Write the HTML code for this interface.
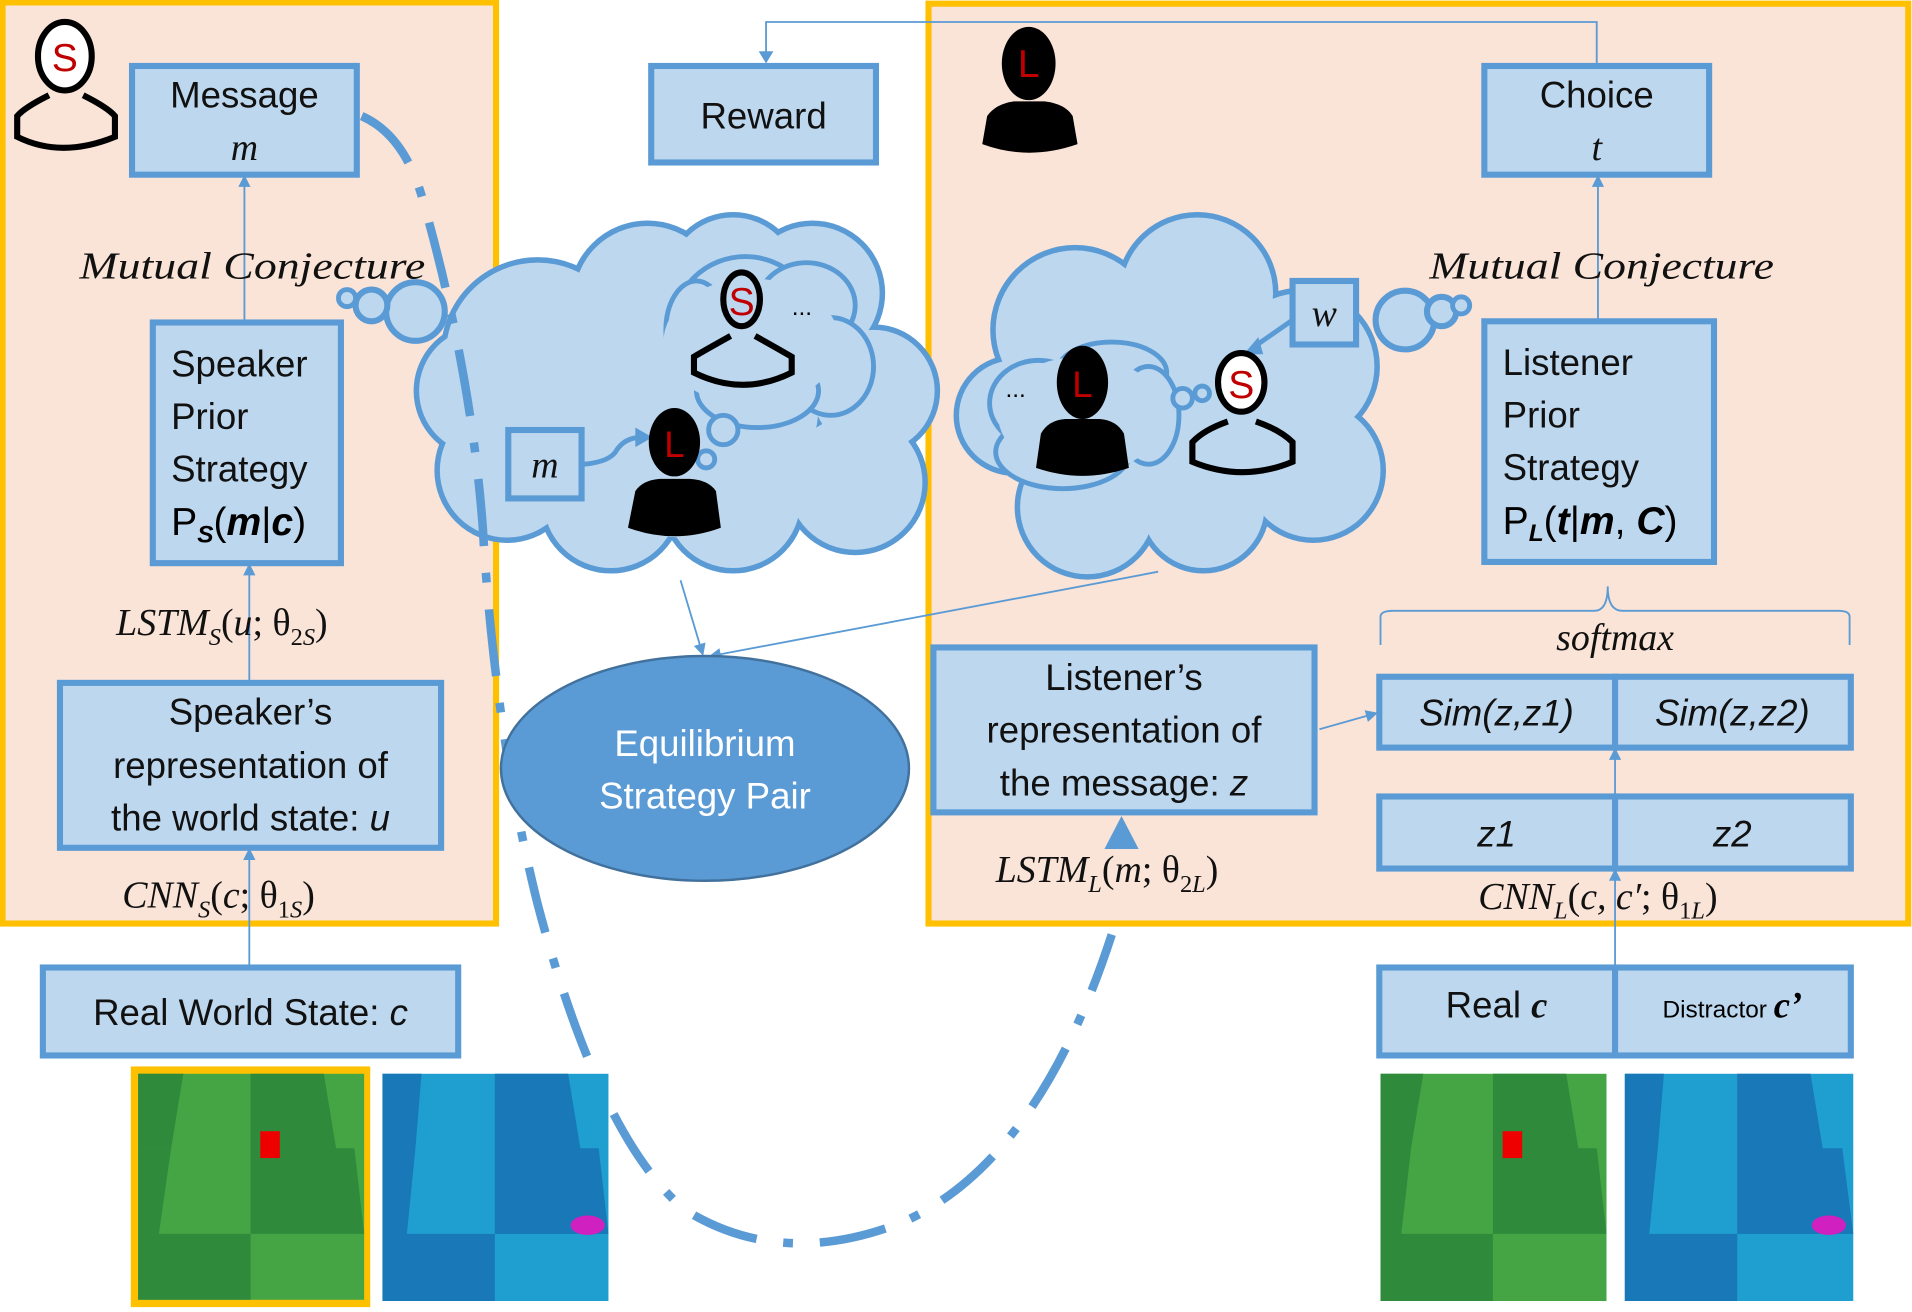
<!DOCTYPE html>
<html><head><meta charset="utf-8"><style>
html,body{margin:0;padding:0;background:#fff;}
svg{display:block}
text{font-family:"Liberation Sans",sans-serif;}
.b{fill:#bdd7ee;stroke:#5b9bd5;stroke-width:5}
.t{font-size:30px;fill:#111}
.s{font-family:"Liberation Serif",serif;font-style:italic;font-size:31px;fill:#111}
.cs{fill:#bdd7ee;stroke:#5b9bd5;stroke-width:9}
.cf{fill:#bdd7ee}
.ln{stroke:#5b9bd5;stroke-width:1.5;fill:none}
</style></head><body>
<svg width="1912" height="1312" viewBox="0 0 1565 1074" xmlns="http://www.w3.org/2000/svg">
<defs>
<marker id="a" markerWidth="10" markerHeight="10" refX="8" refY="5" orient="auto" markerUnits="userSpaceOnUse"><path d="M0,0 L10,5 L0,10z" fill="#5b9bd5"/></marker>
</defs>
<rect x="2" y="2" width="404" height="754" fill="#fae3d7" stroke="#ffc000" stroke-width="5"/>
<rect x="760" y="3" width="802" height="753" fill="#fae3d7" stroke="#ffc000" stroke-width="5"/>

<g>
<circle class="cs" cx="440" cy="290" r="75"/><circle class="cs" cx="530" cy="245" r="60"/><circle class="cs" cx="600" cy="230" r="52"/><circle class="cs" cx="665" cy="240" r="55"/><circle class="cs" cx="715" cy="320" r="50"/><circle class="cs" cx="700" cy="395" r="55"/><circle class="cs" cx="600" cy="410" r="55"/><circle class="cs" cx="500" cy="410" r="55"/><circle class="cs" cx="415" cy="385" r="55"/><circle class="cs" cx="395" cy="320" r="52"/>
<circle class="cf" cx="440" cy="290" r="75"/><circle class="cf" cx="530" cy="245" r="60"/><circle class="cf" cx="600" cy="230" r="52"/><circle class="cf" cx="665" cy="240" r="55"/><circle class="cf" cx="715" cy="320" r="50"/><circle class="cf" cx="700" cy="395" r="55"/><circle class="cf" cx="600" cy="410" r="55"/><circle class="cf" cx="500" cy="410" r="55"/><circle class="cf" cx="415" cy="385" r="55"/><circle class="cf" cx="395" cy="320" r="52"/><circle class="cf" cx="560" cy="330" r="110"/>
</g>
<g stroke="#5b9bd5" stroke-width="4" fill="#bdd7ee">
<ellipse cx="610" cy="270" rx="60" ry="60"/><ellipse cx="660" cy="250" rx="40" ry="35"/><ellipse cx="680" cy="300" rx="35" ry="40"/><ellipse cx="620" cy="320" rx="50" ry="30"/><ellipse cx="570" cy="270" rx="25" ry="40"/>
</g>
<g fill="#bdd7ee"><ellipse cx="615" cy="280" rx="72" ry="52"/></g>
<circle cx="592" cy="352" r="12" fill="#bdd7ee" stroke="#5b9bd5" stroke-width="4"/>
<circle cx="578" cy="376" r="7" fill="#bdd7ee" stroke="#5b9bd5" stroke-width="4"/>
<circle cx="340" cy="255" r="24" fill="#bdd7ee" stroke="#5b9bd5" stroke-width="5"/>
<circle cx="304" cy="250" r="13" fill="#bdd7ee" stroke="#5b9bd5" stroke-width="5"/>
<circle cx="284" cy="244" r="7" fill="#bdd7ee" stroke="#5b9bd5" stroke-width="4"/>

<g>
<circle class="cs" cx="880" cy="270" r="65"/><circle class="cs" cx="980" cy="240" r="62"/><circle class="cs" cx="1065" cy="300" r="60"/><circle class="cs" cx="1075" cy="385" r="55"/><circle class="cs" cx="985" cy="415" r="50"/><circle class="cs" cx="890" cy="415" r="55"/><circle class="cs" cx="830" cy="340" r="45"/>
<circle class="cf" cx="880" cy="270" r="65"/><circle class="cf" cx="980" cy="240" r="62"/><circle class="cf" cx="1065" cy="300" r="60"/><circle class="cf" cx="1075" cy="385" r="55"/><circle class="cf" cx="985" cy="415" r="50"/><circle class="cf" cx="890" cy="415" r="55"/><circle class="cf" cx="830" cy="340" r="45"/><circle class="cf" cx="960" cy="335" r="100"/>
</g>
<g stroke="#5b9bd5" stroke-width="4" fill="#bdd7ee">
<ellipse cx="850" cy="330" rx="40" ry="35"/><ellipse cx="910" cy="305" rx="45" ry="25"/><ellipse cx="940" cy="340" rx="25" ry="40"/><ellipse cx="870" cy="370" rx="55" ry="30"/>
</g>
<ellipse cx="885" cy="340" rx="68" ry="48" fill="#bdd7ee"/>
<circle cx="968" cy="326" r="8" fill="#bdd7ee" stroke="#5b9bd5" stroke-width="4"/>
<circle cx="984" cy="322" r="6" fill="#bdd7ee" stroke="#5b9bd5" stroke-width="4"/>
<circle cx="1150" cy="262" r="24" fill="#bdd7ee" stroke="#5b9bd5" stroke-width="5"/>
<circle cx="1180" cy="255" r="12" fill="#bdd7ee" stroke="#5b9bd5" stroke-width="5"/>
<circle cx="1196" cy="250" r="7" fill="#bdd7ee" stroke="#5b9bd5" stroke-width="4"/>

<path class="ln" d="M627,50 V18 H1307 V53"/><path d="M621,42 L627,52 L633,42z" fill="#5b9bd5"/>
<line class="ln" x1="200" y1="263" x2="200" y2="145" marker-end="url(#a)"/>
<line class="ln" x1="204" y1="557" x2="204" y2="463" marker-end="url(#a)"/>
<line class="ln" x1="204" y1="790" x2="204" y2="696" marker-end="url(#a)"/>
<line class="ln" x1="1308" y1="262" x2="1308" y2="145" marker-end="url(#a)"/>
<line class="ln" x1="1322" y1="790" x2="1322" y2="713" marker-end="url(#a)"/>
<line class="ln" x1="1322" y1="651" x2="1322" y2="614" marker-end="url(#a)"/>
<line class="ln" x1="1080" y1="597" x2="1126" y2="584" marker-end="url(#a)"/>
<line class="ln" x1="557" y1="475" x2="575" y2="535" marker-end="url(#a)"/>
<line class="ln" x1="948" y1="468" x2="582" y2="537" marker-end="url(#a)"/>
<path d="M1130,528 V505 Q1130,500 1140,500 H1305 Q1316,500 1316,480 Q1316,500 1328,500 H1505 Q1514,500 1514,505 V528" fill="none" stroke="#5b9bd5" stroke-width="1.5"/>

<path d="M296,95 Q330,110 345,160 Q385,300 395,430 Q405,600 440,740 Q490,930 560,990 Q640,1040 740,1000 Q850,950 910,765" fill="none" stroke="#5b9bd5" stroke-width="7" stroke-dasharray="55,22,8,22"/>
<path d="M904,695 L918,668 L932,695z" fill="#5b9bd5"/>

<rect class="b" x="108" y="54" width="184" height="89"/>
<text class="t" x="200" y="88" text-anchor="middle">Message</text>
<text class="s" x="200" y="131" text-anchor="middle">m</text>
<rect class="b" x="533" y="54" width="184" height="79"/>
<text class="t" x="625" y="105" text-anchor="middle">Reward</text>
<rect class="b" x="1215" y="54" width="184" height="89"/>
<text class="t" x="1307" y="88" text-anchor="middle">Choice</text>
<text class="s" x="1307" y="131" text-anchor="middle">t</text>

<rect class="b" x="125" y="264" width="154" height="197"/>
<text class="t" x="140" y="308">Speaker</text><text class="t" x="140" y="351">Prior</text><text class="t" x="140" y="394">Strategy</text>
<text x="140" y="438" font-family="Liberation Serif,serif" font-size="32">P<tspan font-size="20" font-weight="bold" font-style="italic" dy="6">S</tspan><tspan dy="-6">(</tspan><tspan font-weight="bold" font-style="italic">m</tspan>|<tspan font-weight="bold" font-style="italic">c</tspan>)</text>
<rect class="b" x="1215" y="263" width="188" height="197"/>
<text class="t" x="1230" y="307">Listener</text><text class="t" x="1230" y="350">Prior</text><text class="t" x="1230" y="393">Strategy</text>
<text x="1230" y="437" font-family="Liberation Serif,serif" font-size="32">P<tspan font-size="20" font-weight="bold" font-style="italic" dy="6">L</tspan><tspan dy="-6">(</tspan><tspan font-weight="bold" font-style="italic">t</tspan>|<tspan font-weight="bold" font-style="italic">m</tspan>, <tspan font-weight="bold" font-style="italic">C</tspan>)</text>

<rect class="b" x="49" y="559" width="312" height="135"/>
<text class="t" x="205" y="593" text-anchor="middle">Speaker’s</text>
<text class="t" x="205" y="637" text-anchor="middle">representation of</text>
<text class="t" x="205" y="680" text-anchor="middle">the world state: <tspan font-style="italic">u</tspan></text>
<rect class="b" x="35" y="792" width="340" height="72"/>
<text class="t" x="205" y="839" text-anchor="middle">Real World State: <tspan font-style="italic">c</tspan></text>

<rect class="b" x="764" y="530" width="312" height="135"/>
<text class="t" x="920" y="565" text-anchor="middle">Listener’s</text>
<text class="t" x="920" y="608" text-anchor="middle">representation of</text>
<text class="t" x="920" y="651" text-anchor="middle">the message: <tspan font-style="italic">z</tspan></text>

<rect class="b" x="1129" y="554" width="193" height="58"/><rect class="b" x="1322" y="554" width="193" height="58"/>
<text class="t" x="1225" y="594" text-anchor="middle" font-style="italic">Sim(z,z1)</text>
<text class="t" x="1418" y="594" text-anchor="middle" font-style="italic">Sim(z,z2)</text>
<rect class="b" x="1129" y="652" width="193" height="59"/><rect class="b" x="1322" y="652" width="193" height="59"/>
<text class="t" x="1225" y="693" text-anchor="middle" font-style="italic">z1</text>
<text class="t" x="1418" y="693" text-anchor="middle" font-style="italic">z2</text>
<rect class="b" x="1129" y="792" width="193" height="72"/><rect class="b" x="1322" y="792" width="193" height="72"/>
<text class="t" x="1225" y="833" text-anchor="middle">Real <tspan font-family="Liberation Serif,serif" font-weight="bold" font-style="italic">c</tspan></text>
<text x="1418" y="833" text-anchor="middle" font-size="20">Distractor <tspan font-family="Liberation Serif,serif" font-weight="bold" font-style="italic" font-size="30">c’</tspan></text>

<rect x="416" y="352" width="60" height="56" fill="#bdd7ee" stroke="#5b9bd5" stroke-width="5"/>
<text class="s" x="446" y="391" text-anchor="middle">m</text>
<path d="M478,380 Q500,378 505,368 Q512,358 525,358" fill="none" stroke="#5b9bd5" stroke-width="4"/><path d="M520,350 L534,358 L520,366z" fill="#5b9bd5"/>
<rect x="1058" y="230" width="52" height="52" fill="#bdd7ee" stroke="#5b9bd5" stroke-width="5"/>
<text class="s" x="1084" y="267" text-anchor="middle">w</text>
<line x1="1058" y1="262" x2="1025" y2="285" stroke="#5b9bd5" stroke-width="4"/><path d="M1018,290 L1030,276 L1034,290z" fill="#5b9bd5"/>

<ellipse cx="577" cy="629" rx="167" ry="92" fill="#5b9bd5" stroke="#41719c" stroke-width="2"/>
<text x="577" y="619" text-anchor="middle" font-size="30" fill="#fff">Equilibrium</text>
<text x="577" y="662" text-anchor="middle" font-size="30" fill="#fff">Strategy Pair</text>

<text class="s" x="65" y="228" font-size="33" textLength="283" lengthAdjust="spacingAndGlyphs">Mutual Conjecture</text>
<text class="s" x="1170" y="228" font-size="33" textLength="282" lengthAdjust="spacingAndGlyphs">Mutual Conjecture</text>
<text class="s" x="95" y="520">LSTM<tspan font-size="20" dy="8">S</tspan><tspan dy="-8" font-style="normal">(</tspan>u<tspan font-style="normal">; θ</tspan><tspan font-style="normal" font-size="20" dy="8">2</tspan><tspan font-size="20">S</tspan><tspan dy="-8" font-style="normal">)</tspan></text>
<text class="s" x="100" y="743">CNN<tspan font-size="20" dy="8">S</tspan><tspan dy="-8" font-style="normal">(</tspan>c<tspan font-style="normal">; θ</tspan><tspan font-style="normal" font-size="20" dy="8">1</tspan><tspan font-size="20">S</tspan><tspan dy="-8" font-style="normal">)</tspan></text>
<text class="s" x="815" y="722">LSTM<tspan font-size="20" dy="8">L</tspan><tspan dy="-8" font-style="normal">(</tspan>m<tspan font-style="normal">; θ</tspan><tspan font-style="normal" font-size="20" dy="8">2</tspan><tspan font-size="20">L</tspan><tspan dy="-8" font-style="normal">)</tspan></text>
<text class="s" x="1210" y="744">CNN<tspan font-size="20" dy="8">L</tspan><tspan dy="-8" font-style="normal">(</tspan>c, c′<tspan font-style="normal">; θ</tspan><tspan font-style="normal" font-size="20" dy="8">1</tspan><tspan font-size="20">L</tspan><tspan dy="-8" font-style="normal">)</tspan></text>
<text class="s" x="1322" y="532" text-anchor="middle">softmax</text>

<g fill="none" stroke="#000" stroke-width="5">
<ellipse cx="53" cy="46" rx="22" ry="28" fill="#fff"/>
<path d="M40,78 Q20,88 14,95 V112 Q50,130 94,112 V95 Q88,88 68,78"/>
</g>
<text x="53" y="58" text-anchor="middle" font-size="32" fill="#c00000">S</text>
<g fill="none" stroke="#000" stroke-width="5">
<ellipse cx="607" cy="245" rx="15" ry="22"/>
<path d="M598,275 Q580,285 568,292 V305 Q608,325 648,305 V292 Q636,285 618,275"/>
</g>
<text x="607" y="258" text-anchor="middle" font-size="32" fill="#c00000">S</text>
<text x="648" y="258" font-size="20">...</text>
<g fill="none" stroke="#000" stroke-width="5">
<ellipse cx="1016" cy="313" rx="19" ry="24" fill="#fff"/>
<path d="M1005,345 Q985,352 976,362 V378 Q1017,395 1058,378 V362 Q1048,352 1028,345"/>
</g>
<text x="1016" y="326" text-anchor="middle" font-size="32" fill="#c00000">S</text>
<g fill="#000">
<ellipse cx="842" cy="52" rx="22" ry="30"/><path d="M808,95 Q815,85 830,83 H855 Q872,85 878,95 L882,118 Q842,132 804,118z"/>
<ellipse cx="552" cy="362" rx="21" ry="28"/><path d="M520,402 Q526,393 540,392 H565 Q580,393 586,402 L590,432 Q552,446 514,432z"/>
<ellipse cx="886" cy="313" rx="21" ry="30"/><path d="M852,355 Q858,344 872,343 H900 Q914,344 920,355 L924,383 Q886,396 848,383z"/>
</g>
<text x="842" y="63" text-anchor="middle" font-size="32" fill="#c00000">L</text>
<text x="552" y="374" text-anchor="middle" font-size="30" fill="#c00000">L</text>
<text x="886" y="325" text-anchor="middle" font-size="30" fill="#c00000">L</text>
<text x="823" y="325" font-size="20">...</text>

<g>
<rect x="107" y="873" width="196" height="197" fill="#ffc000"/>
<rect x="113" y="879" width="185" height="185" fill="#45a444"/>
<path d="M113,879 H150 L140,940 H113z M205,879 H265 L275,940 H205z M113,1010 H205 V1064 H113z M205,940 H290 L298,1010 H205z" fill="#2f8a3b"/>
<path d="M113,940 H140 L130,1010 H113z" fill="#2f8a3b"/>
<rect x="213" y="926" width="16" height="22" fill="#e00"/>
<rect x="313" y="879" width="185" height="186" fill="#1f9fd0"/>
<path d="M313,879 H345 L340,940 H313z M405,879 H465 L475,940 H405z M313,1010 H405 V1065 H313z M405,940 H490 L498,1010 H405z M313,940 H340 L333,1010 H313z" fill="#1878b8"/>
<ellipse cx="481" cy="1003" rx="14" ry="8" fill="#d020c0"/>
<rect x="1130" y="879" width="185" height="186" fill="#45a444"/>
<path d="M1130,879 H1165 L1155,940 H1130z M1222,879 H1282 L1292,940 H1222z M1130,1010 H1222 V1065 H1130z M1222,940 H1307 L1315,1010 H1222z M1130,940 H1155 L1147,1010 H1130z" fill="#2f8a3b"/>
<rect x="1230" y="926" width="16" height="22" fill="#e00"/>
<rect x="1330" y="879" width="187" height="186" fill="#1f9fd0"/>
<path d="M1330,879 H1362 L1357,940 H1330z M1422,879 H1482 L1492,940 H1422z M1330,1010 H1422 V1065 H1330z M1422,940 H1508 L1517,1010 H1422z M1330,940 H1357 L1350,1010 H1330z" fill="#1878b8"/>
<ellipse cx="1497" cy="1003" rx="14" ry="8" fill="#d020c0"/>
</g>
</svg>
</body></html>
